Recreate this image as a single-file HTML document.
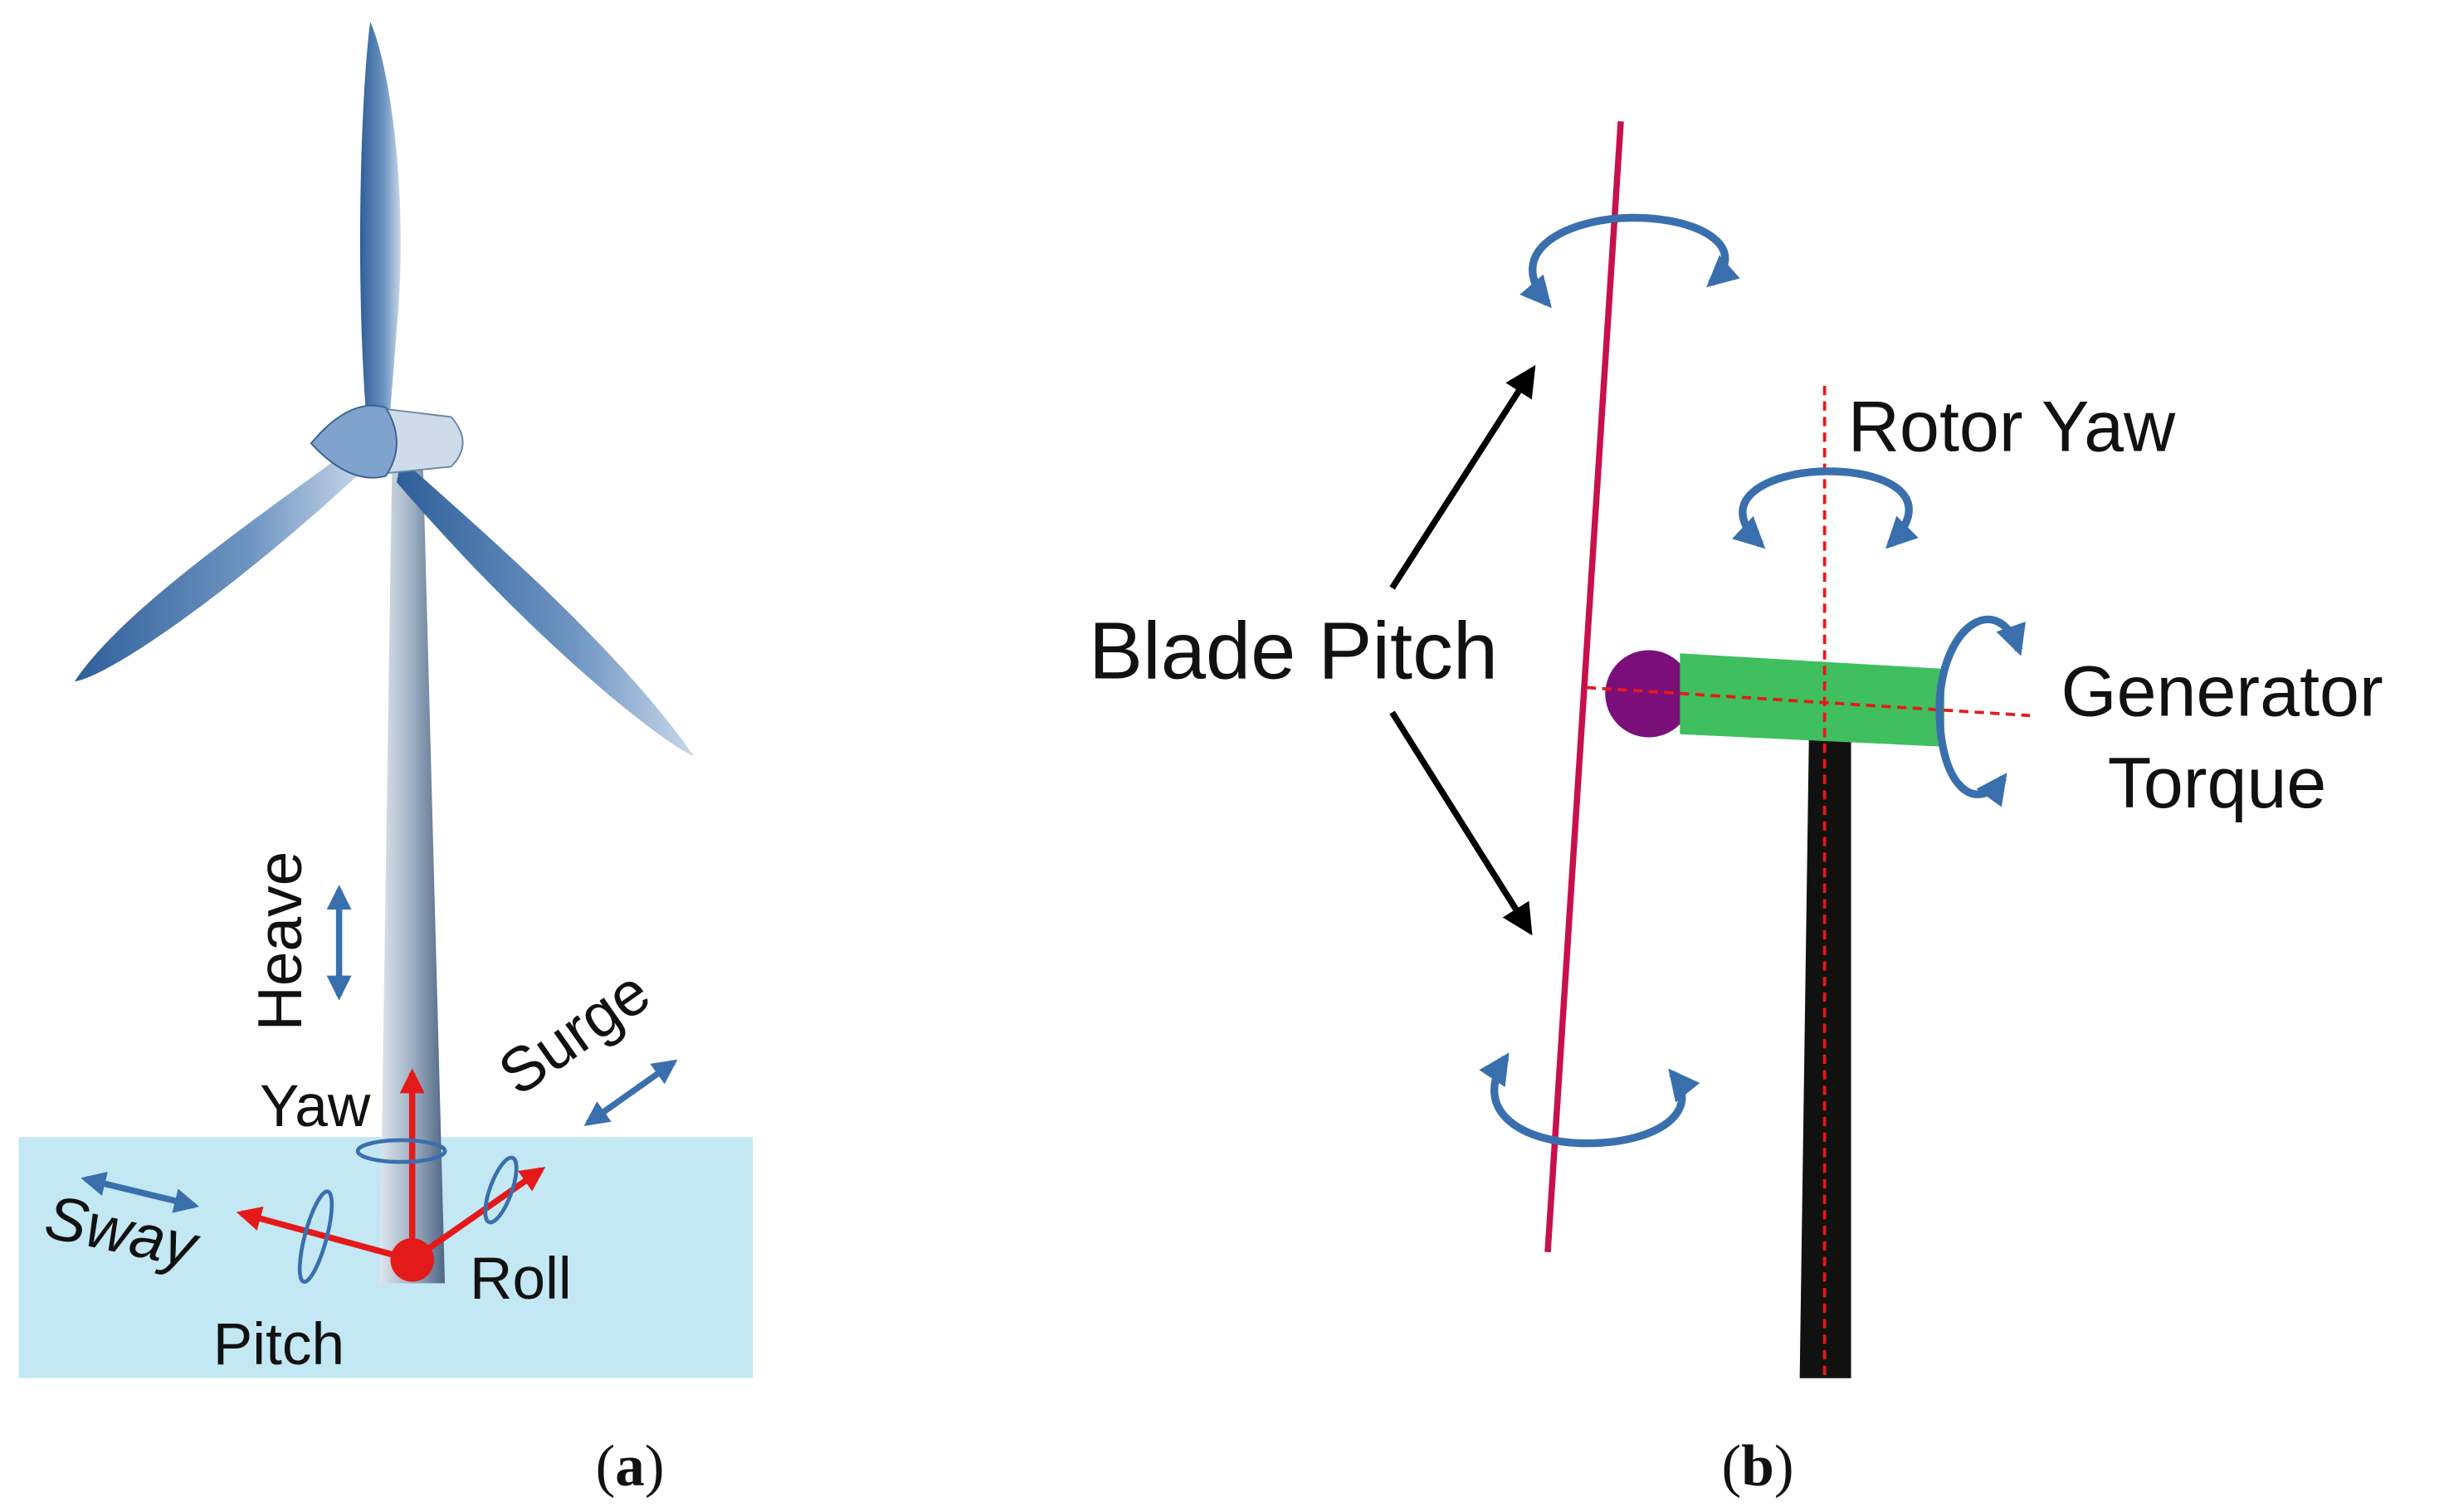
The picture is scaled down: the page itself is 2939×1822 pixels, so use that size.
<!DOCTYPE html>
<html><head><meta charset="utf-8"><style>
html,body{margin:0;padding:0;background:#fff;}
svg{display:block;}
text{font-family:"Liberation Sans",sans-serif;fill:#111;}
</style></head><body>
<svg width="2939" height="1822" viewBox="0 0 1568 972" xmlns="http://www.w3.org/2000/svg">
<defs>
<marker id="bh" viewBox="0 0 10 10" refX="8" refY="5" markerWidth="4" markerHeight="4" orient="auto-start-reverse"><path d="M0,0L10,5L0,10z" fill="#3a6fae"/></marker>
<marker id="kh" viewBox="0 0 10 10" refX="8" refY="5" markerWidth="5" markerHeight="5" orient="auto"><path d="M0,0L10,5L0,10z" fill="#000"/></marker>
<marker id="rh" viewBox="0 0 10 10" refX="8" refY="5" markerWidth="4" markerHeight="4" orient="auto"><path d="M0,0L10,5L0,10z" fill="#e41a1a"/></marker>
<linearGradient id="tw" x1="0" x2="1"><stop offset="0" stop-color="#dfe6ee"/><stop offset="0.5" stop-color="#9fb0c4"/><stop offset="1" stop-color="#4f6684"/></linearGradient>
<linearGradient id="bl" x1="0" x2="1"><stop offset="0" stop-color="#2f5f99"/><stop offset="0.6" stop-color="#6e95c2"/><stop offset="1" stop-color="#c9d8ea"/></linearGradient>
</defs>
<rect x="12" y="731" width="472" height="155" fill="#c3e8f4"/>
<polygon points="252,300 272,300 286,825 244,825" fill="url(#tw)"/>
<path d="M236,275 C228,180 232,60 238,14 C250,40 262,120 256,200 L250,275 Z" fill="url(#bl)"/>
<path d="M230,285 C170,330 80,390 48,438 C70,435 150,380 236,300 Z" fill="url(#bl)"/>
<path d="M258,295 C320,350 400,420 446,486 C430,480 350,420 255,310 Z" fill="url(#bl)"/>
<path d="M240,262 L290,268 Q305,285 290,300 L240,305 Z" fill="#cfdbe8" stroke="#6b87a8"/>
<path d="M200,285 Q225,255 248,262 Q262,285 248,306 Q225,312 200,285Z" fill="#7fa3cc" stroke="#3a6090"/>
<g stroke="#e41a1a" stroke-width="4" fill="none">
<line x1="265" y1="810" x2="265" y2="690" marker-end="url(#rh)"/>
<line x1="265" y1="810" x2="155" y2="780" marker-end="url(#rh)"/>
<line x1="265" y1="810" x2="348" y2="752" marker-end="url(#rh)"/>
</g>
<circle cx="265" cy="810" r="14" fill="#e41a1a"/>
<g stroke="#3a6fae" stroke-width="2.5" fill="none">
<ellipse cx="258" cy="740" rx="28" ry="7"/>
<ellipse cx="203" cy="795" rx="7" ry="30" transform="rotate(15 203 795)"/>
<ellipse cx="322" cy="765" rx="7" ry="22" transform="rotate(20 322 765)"/>
</g>
<g stroke="#3a6fae" stroke-width="4" fill="none">
<line x1="218" y1="572" x2="218" y2="640" marker-start="url(#bh)" marker-end="url(#bh)"/>
<line x1="378" y1="722" x2="433" y2="683" marker-start="url(#bh)" marker-end="url(#bh)"/>
<line x1="55" y1="758" x2="125" y2="775" marker-start="url(#bh)" marker-end="url(#bh)"/>
</g>
<text x="183" y="605" font-size="40" text-anchor="middle" transform="rotate(-90 183 605)" dominant-baseline="middle">Heave</text>
<text x="167" y="724" font-size="38">Yaw</text>
<text x="377" y="675" font-size="40" text-anchor="middle" transform="rotate(-35 377 675)">Surge</text>
<text x="75" y="805" font-size="40" font-style="italic" text-anchor="middle" transform="rotate(12 75 805)">Sway</text>
<text x="137" y="877" font-size="38">Pitch</text>
<text x="302" y="835" font-size="38">Roll</text>

<polygon points="1163,470 1190,470 1190,886 1157,886" fill="#111"/>
<line x1="1042" y1="78" x2="995" y2="805" stroke="#c8104a" stroke-width="4"/>
<circle cx="1060" cy="446" r="28" fill="#7a0f7a"/>
<polygon points="1080,420 1250,430 1250,480 1080,472" fill="#3fbf5f"/>
<g stroke="#e41a1a" stroke-width="2" stroke-dasharray="6,4" fill="none">
<line x1="1173" y1="248" x2="1173" y2="886"/>
<line x1="1020" y1="442" x2="1305" y2="460"/>
</g>
<g stroke="#000" stroke-width="4">
<line x1="895" y1="378" x2="985" y2="238" marker-end="url(#kh)"/>
<line x1="895" y1="458" x2="983" y2="598" marker-end="url(#kh)"/>
</g>
<g stroke="#3a6fae" stroke-width="5" fill="none">
<path d="M995,195 C965,160 1010,140 1050,140 C1095,140 1125,160 1100,182" marker-start="url(#bh)" marker-end="url(#bh)"/>
<path d="M968,680 C945,715 980,735 1020,735 C1065,735 1095,715 1075,690" marker-start="url(#bh)" marker-end="url(#bh)"/>
<path d="M1132,350 C1100,320 1140,303 1175,303 C1215,303 1245,320 1215,350" marker-start="url(#bh)" marker-end="url(#bh)"/>
<path d="M1298,418 C1285,380 1250,400 1247,450 C1245,505 1270,525 1288,500" marker-start="url(#bh)" marker-end="url(#bh)"/>
</g>
<text x="1188" y="290" font-size="46">Rotor Yaw</text>
<text x="700" y="436" font-size="52">Blade Pitch</text>
<text x="1325" y="460" font-size="46">Generator</text>
<text x="1355" y="519" font-size="46">Torque</text>
<text x="405" y="955" font-size="38" text-anchor="middle" style="font-family:'Liberation Serif',serif">(<tspan font-weight="bold">a</tspan>)</text>
<text x="1130" y="955" font-size="38" text-anchor="middle" style="font-family:'Liberation Serif',serif">(<tspan font-weight="bold">b</tspan>)</text>
</svg>
</body></html>
